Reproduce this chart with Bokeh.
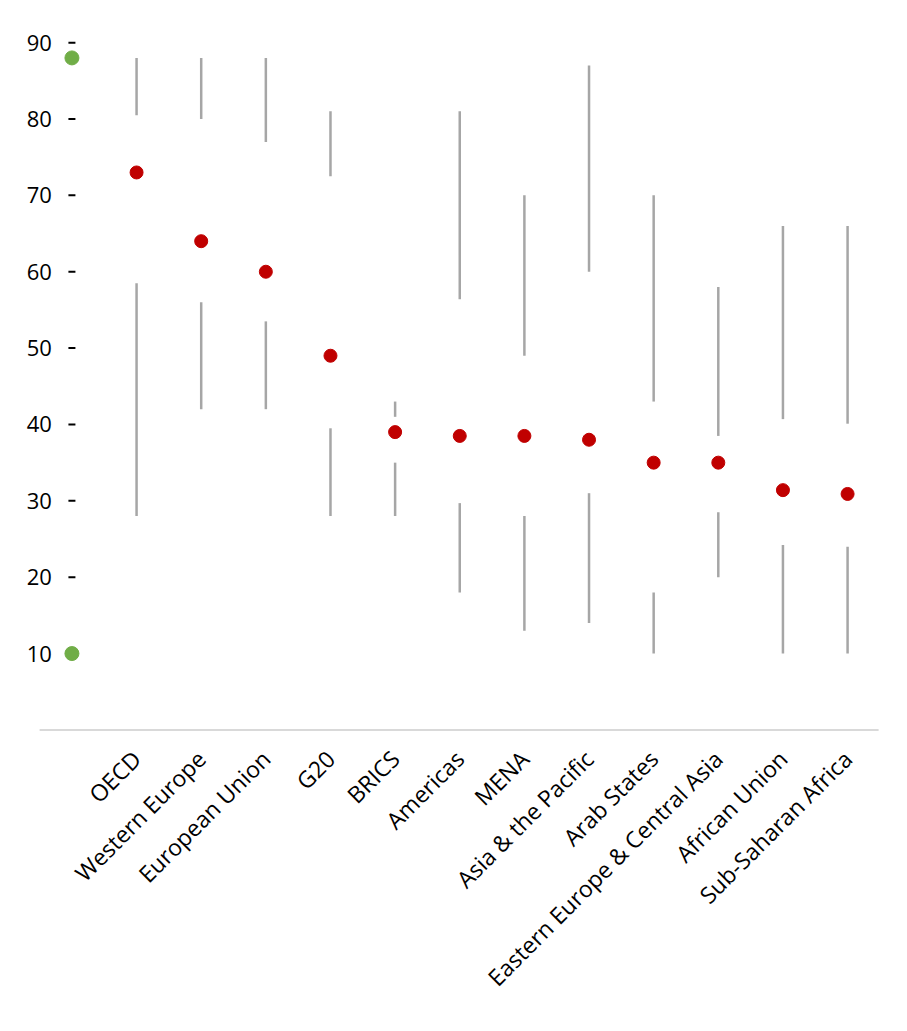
import math
from bokeh.plotting import figure
from bokeh.models import Range1d, FixedTicker, ColumnDataSource
from bokeh.core.properties import value
from bokeh.embed import file_html
from bokeh.resources import INLINE

categories = ["OECD", "Western Europe", "European Union", "G20", "BRICS", "Americas",
              "MENA", "Asia & the Pacific", "Arab States",
              "Eastern Europe & Central Asia", "African Union", "Sub-Saharan Africa"]
minimum = [28, 42, 42, 28, 28, 18, 13, 14, 10, 20, 10, 10]
lower_q = [58.5, 56, 53.5, 39.5, 35, 29.7, 28, 31, 18, 28.5, 24.2, 24]
median = [73, 64, 60, 49, 39, 38.5, 38.5, 38, 35, 35, 31.4, 30.9]
upper_q = [80.5, 80, 77, 72.5, 41, 56.4, 49, 60, 43, 38.5, 40.7, 40.1]
maximum = [88, 88, 88, 81, 43, 81, 70, 87, 70, 58, 66, 66]
global_extremes = [88, 10]
y_ticks = [10, 20, 30, 40, 50, 60, 70, 80, 90]

FONT = "Open Sans"
xs = list(range(1, len(categories) + 1))
x_lo, x_hi = -0.5, len(categories) + 0.48   # extent of the baseline

src = ColumnDataSource(dict(x=xs, mn=minimum, q1=lower_q, md=median, q3=upper_q, mx=maximum))

p = figure(frame_width=890, frame_height=715, output_backend="svg", toolbar_location=None,
           x_range=Range1d(-1.105, 12.664), y_range=Range1d(-0.73, 92.9),
           min_border_left=0, min_border_right=0, min_border_top=20, min_border_bottom=0)
p.outline_line_color = None
p.xgrid.visible = False
p.ygrid.visible = False
p.yaxis.visible = False
p.background_fill_color = "white"

# baseline
p.segment(x0=[x_lo], y0=[0], x1=[x_hi], y1=[0], line_color="#D9D9D9", line_width=2)

# whiskers
p.segment(x0="x", y0="mn", x1="x", y1="q1", source=src, line_color="#A6A6A6", line_width=2.5)
p.segment(x0="x", y0="q3", x1="x", y1="mx", source=src, line_color="#A6A6A6", line_width=2.5)
# medians
p.scatter(x="x", y="md", source=src, size=13, fill_color="#C00000", line_color="#C00000")

# y-axis ticks and labels drawn at category 0
p.scatter(x=[0] * len(y_ticks), y=y_ticks, marker="dash", size=7,
          line_color="black", line_width=2)
p.text(x=[0] * len(y_ticks), y=y_ticks, text=[str(t) for t in y_ticks],
       x_offset=-20, text_align="right", text_baseline="middle",
       text_font=value(FONT), text_font_size="22px", text_color="black")

# global extremes
p.scatter(x=[0] * len(global_extremes), y=global_extremes, size=14,
          fill_color="#70AD47", line_color="#70AD47")

ax = p.xaxis[0]
ax.ticker = FixedTicker(ticks=xs)
ax.major_label_overrides = {x: c for x, c in zip(xs, categories)}
ax.major_label_orientation = math.pi / 4
ax.major_tick_line_color = None
ax.minor_tick_line_color = None
ax.axis_line_color = None
ax.major_label_standoff = 13
ax.major_label_text_font = FONT
ax.major_label_text_font_size = "23px"
ax.major_label_text_color = "black"

open("out.html", "w").write(file_html(p, INLINE))
